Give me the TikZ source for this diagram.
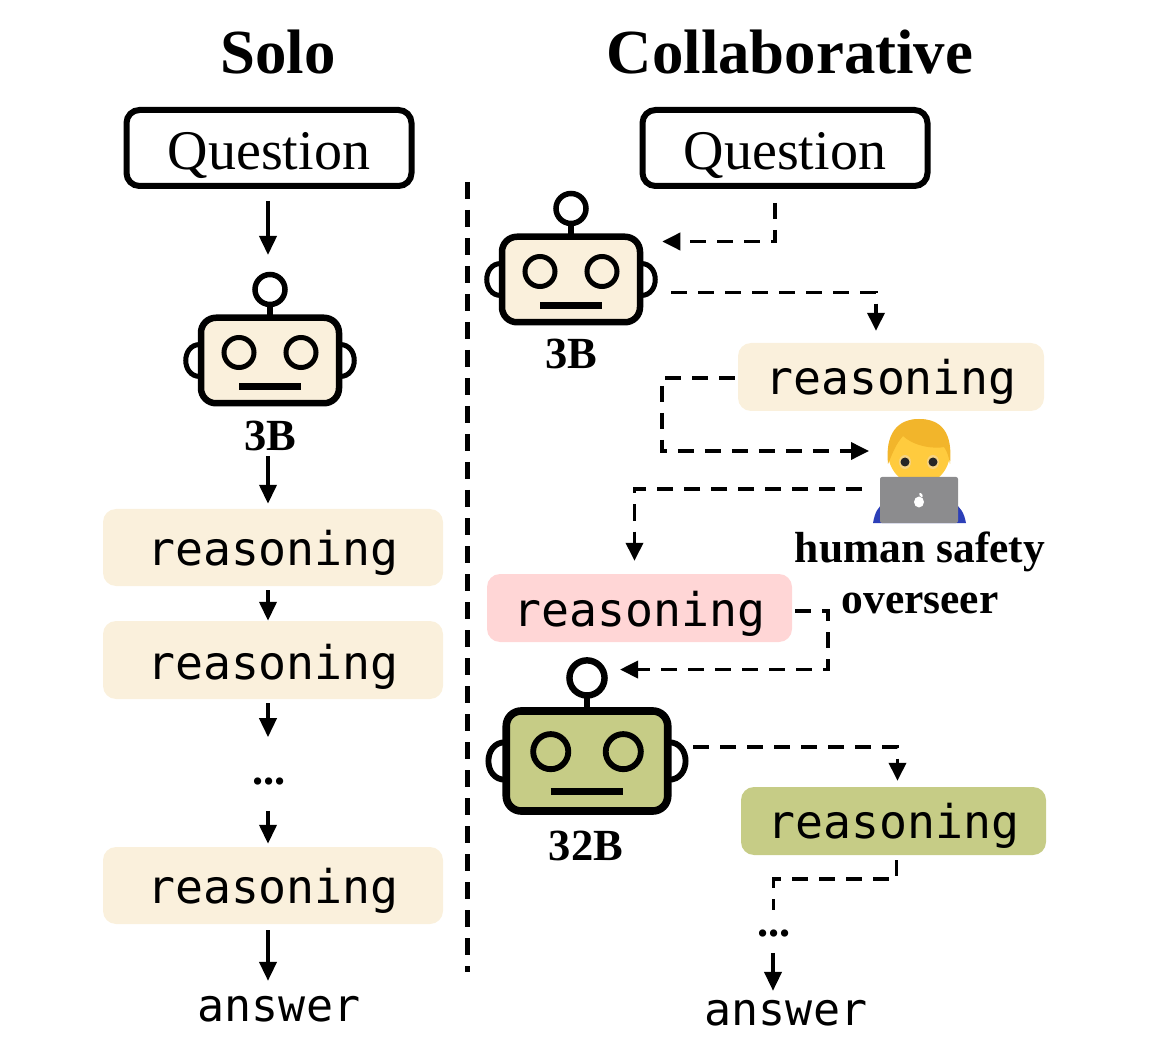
\documentclass[tikz,border=0pt]{standalone}
\usepackage{fontspec}
\setmainfont{Liberation Serif}
\newfontfamily\monofam{DejaVu Sans Mono}
\usetikzlibrary{arrows.meta,shapes.geometric}
\definecolor{creamc}{HTML}{FAF0DC}
\definecolor{pinkc}{HTML}{FFD6D6}
\definecolor{greenc}{HTML}{C6CC86}
\definecolor{facec}{HTML}{FFCB3E}
\definecolor{hairc}{HTML}{F2B52B}
\definecolor{lapc}{HTML}{8C8C8E}
\definecolor{armc}{HTML}{2C3FB8}
\tikzset{
  qbox/.style={draw=black,line width=6pt,rounded corners=13pt,fill=white,minimum width=285pt,minimum height=76pt,inner sep=0pt,font=\fontsize{56}{56}\selectfont},
  rbox/.style={rounded corners=13pt,inner sep=0pt,font=\monofam\fontsize{46.5}{46.5}\selectfont,text depth=0pt},
  ans/.style={inner sep=0pt,font=\monofam\fontsize{45}{45}\selectfont},
  lab/.style={inner sep=0pt,font=\bfseries\fontsize{44.5}{44.5}\selectfont},
  hlab/.style={inner sep=0pt,font=\bfseries\fontsize{43.5}{43.5}\selectfont},
  ttl/.style={inner sep=0pt,font=\bfseries\fontsize{62.8}{62.8}\selectfont},
  sarrow/.style={line width=3.8pt,-{Triangle[length=19pt,width=17pt]}},
  darrow/.style={line width=3.6pt,dash pattern=on 16pt off 11pt,-{Triangle[length=18pt,width=17pt]}},
  dline/.style={line width=3.6pt,dash pattern=on 16pt off 11pt},
}
\newcommand{\drawrobot}[5]{% name, x, y, scale, colour
  \begin{scope}[shift={(#2,#3)},scale=#4]
    \draw[line width=#4*5pt] (-70,-16) .. controls (-89,-16) and (-89,16) .. (-70,16);
    \draw[line width=#4*5pt] (70,-16) .. controls (89,-16) and (89,16) .. (70,16);
    \draw[line width=#4*5.5pt] (0,-56) -- (0,-42);
    \draw[line width=#4*5.5pt,fill=white] (0,-71) circle (15);
    \node[transform shape,draw=black,line width=#4*6.5pt,fill=#5,rounded corners=15pt,minimum width=138pt,minimum height=85.5pt,inner sep=0pt] (#1) at (0,0) {};
    \draw[line width=#4*5pt] (-31,-8) circle (15);
    \draw[line width=#4*5pt] (31,-8) circle (15);
    \draw[line width=#4*6.5pt] (-31,26) -- (31,26);
  \end{scope}
}
\begin{document}
\begin{tikzpicture}[x=1pt,y=-1pt]
\useasboundingbox (0,0) rectangle (1168,1056);
% titles
\node[ttl] (t1) at (278,52) {Solo};
\node[ttl] (t2) at (790,52) {Collaborative};
% divider
\coordinate (d1) at (467,182);
\coordinate (d2) at (467,972);
\draw[line width=5pt,dash pattern=on 17pt off 11pt] (d1) -- (d2);
% left column
\node[qbox] (q1) at (269,148) {\rule{0pt}{52pt}Question};
\drawrobot{r1}{270}{360.5}{1}{creamc}
\node[lab] (l1) at (270,436) {3B};
\node[rbox,fill=creamc,minimum width=340pt,minimum height=77pt] (a1) at (273,547.5) {reasoning};
\node[rbox,fill=creamc,minimum width=340pt,minimum height=78pt] (a2) at (273,660) {\raisebox{-3pt}{reasoning}};
\node[lab] (dots1) at (269,782) {...};
\node[rbox,fill=creamc,minimum width=340pt,minimum height=77pt] (a3) at (273,885.5) {\raisebox{-1pt}{reasoning}};
\node[ans] (ans1) at (279,1009) {answer};
\coordinate (ra) at (268,255);
\draw[sarrow] ([shift={(-1,12)}]q1.south) -- (ra);
\draw[sarrow] ([shift={(-2,5)}]l1.south) -- ([shift={(-5,-5)}]a1.north);
\draw[sarrow] ([shift={(-5,4)}]a1.south) -- ([shift={(-5,0)}]a2.north);
\draw[sarrow] ([shift={(-5,4)}]a2.south) -- ([shift={(-5,38)}]a2.south);
\draw[sarrow] ([shift={(-5,-36)}]a3.north) -- ([shift={(-5,-3)}]a3.north);
\draw[sarrow] ([shift={(-5,6)}]a3.south) -- ([shift={(-11,-15)}]ans1.north);
% right column
\node[qbox] (q2) at (785,148) {\rule{0pt}{52pt}Question};
\drawrobot{r2}{571}{279.5}{1}{creamc}
\node[lab] (l2) at (571,354) {3B};
\node[rbox,fill=creamc,minimum width=306pt,minimum height=68pt] (b1) at (891,377) {reasoning};
\node[hlab] (h1) at (920,552) {human safety};
\node[hlab] (h2) at (920,603) {overseer};
\node[rbox,fill=pinkc,minimum width=305pt,minimum height=68pt] (b2) at (639.5,608) {\raisebox{-1pt}{reasoning}};
\drawrobot{r3}{587}{761}{1.17}{greenc}
\node[lab] (l3) at (586,846) {32B};
\node[rbox,fill=greenc,minimum width=305pt,minimum height=68pt] (b3) at (893.5,821) {reasoning};
\node[lab] (dots2) at (774,934) {...};
\node[ans] (ans2) at (786,1013) {answer};
% person emoji
\fill[armc] (873,523) .. controls (875,512) and (878,507) .. (884,503) -- (954,503) .. controls (960,507) and (964,512) .. (966,523) -- cycle;
\fill[facec] (919,452) ellipse [x radius=31,y radius=33];
\fill[hairc] (919,419) .. controls (897,419) and (885,434) .. (888,464) .. controls (893,452) and (896,444) .. (903,436) .. controls (915,447) and (935,449) .. (944,447) .. controls (947,451) and (949,457) .. (950,464) .. controls (953,432) and (941,419) .. (919,419) -- cycle;
\foreach \ex in {905,933}{\fill[hairc!60!white] (\ex,462) ellipse [x radius=6,y radius=7]; \fill[black!85] (\ex,462) circle (4.5);}
\fill[lapc,rounded corners=2pt] (880,477) rectangle (958,523);
\fill[white] (919,502) ellipse [x radius=5,y radius=5.5];
\fill[white,rotate around={35:(921,495)}] (921,495) ellipse [x radius=1.3,y radius=2.4];
\coordinate (pl) at (869,451);
% connectors
\draw[darrow] ([shift={(-10,14)}]q2.south) |- ([shift={(19,-38)}]r2.east);
\draw[darrow] ([shift={(28,13)}]r2.east) -| ([shift={(-15,-12)}]b1.north);
\draw[darrow] ([shift={(-3,1)}]b1.west) -- ++(-73,0) |- (pl);
\coordinate (pr) at (862,489);
\draw[darrow] (pr) -| ([shift={(-5,-13)}]b2.north);
\draw[darrow] ([shift={(3,3)}]b2.east) -- ++(33,0) |- ([shift={(33,-37)}]r3.north);
\draw[darrow] ([shift={(21,-14)}]r3.east) -| ([shift={(4,-6)}]b3.north);
\draw[dline] ([shift={(3,5)}]b3.south) |- ([shift={(-120,24)}]b3.south) -- ([shift={(-120,55)}]b3.south);
\draw[sarrow] ([shift={(-1,15)}]dots2.south) -- ([shift={(-13,-9)}]ans2.north);
\end{tikzpicture}
\end{document}
